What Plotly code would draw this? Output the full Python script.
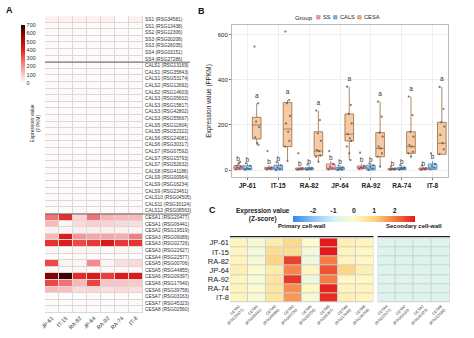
import plotly.graph_objects as go

W, H = 474, 338
FONT = "Liberation Sans, Arial, sans-serif"

def px_x(v):
    return v / W

def px_y(v):
    return 1 - v / H

# ---------------- Panel A data ----------------
genotypes = ["JP-61", "IT-15", "RA-82", "JP-64", "RA-92", "RA-74", "IT-8"]

ss_genes = ["SS1 (RSG34581)", "SS1 (RSG13438)", "SS2 (RSG12306)", "SS3 (RSG00208)",
            "SS3 (RSG26035)", "SS4 (RSG03151)", "SS4 (RSG27286)"]
ss_fpkm = [
    [28, 26, 27, 26, 28, 3, 27],
    [10, 9, 11, 10, 9, 8, 10],
    [9, 10, 9, 8, 10, 9, 8],
    [8, 9, 10, 9, 8, 9, 9],
    [10, 8, 9, 11, 9, 8, 10],
    [9, 9, 8, 10, 10, 9, 8],
    [8, 10, 9, 9, 8, 10, 9],
]

cals_genes = ["CALS1 (RSG13169)", "CALS1 (RSG35843)", "CALS1 (RSG53174)", "CALS2 (RSG12692)",
              "CALS2 (RSG14603)", "CALS3 (RSG05602)", "CALS3 (RSG15817)", "CALS3 (RSG42802)",
              "CALS3 (RSG55667)", "CALS5 (RSG11804)", "CALS5 (RSG52322)", "CALS6 (RSG24081)",
              "CALS6 (RSG30317)", "CALS7 (RSG07592)", "CALS7 (RSG15793)", "CALS7 (RSG52632)",
              "CALS8 (RSG41188)", "CALS9 (RSG00964)", "CALS9 (RSG16234)", "CALS9 (RSG23461)",
              "CALS10 (RSG04505)", "CALS11 (RSG30124)", "CALS12 (RSG08563)"]
cals_fpkm = [
    [9, 8, 9, 10, 9, 8, 9],
    [10, 9, 8, 9, 10, 9, 8],
    [8, 9, 10, 8, 9, 10, 9],
    [9, 10, 9, 9, 8, 9, 10],
    [10, 8, 9, 10, 9, 8, 9],
    [9, 9, 10, 8, 9, 9, 8],
    [8, 10, 9, 9, 10, 8, 9],
    [9, 8, 8, 10, 9, 9, 10],
    [10, 9, 9, 8, 8, 10, 9],
    [9, 10, 8, 9, 9, 9, 8],
    [8, 9, 9, 10, 10, 8, 9],
    [9, 8, 10, 9, 8, 9, 10],
    [10, 9, 9, 8, 9, 10, 9],
    [9, 10, 8, 9, 10, 9, 8],
    [8, 9, 9, 10, 9, 8, 9],
    [9, 8, 10, 9, 8, 9, 10],
    [10, 9, 9, 8, 9, 10, 9],
    [9, 10, 8, 9, 10, 9, 8],
    [8, 9, 9, 10, 9, 8, 9],
    [9, 8, 10, 9, 8, 9, 10],
    [10, 9, 9, 8, 9, 10, 9],
    [9, 10, 8, 9, 10, 9, 8],
    [8, 9, 9, 10, 9, 8, 9],
]

cesa_genes = ["CESA1 (RSG20477)", "CESA1 (RSG06441)", "CESA2 (RSG19519)", "CESA3 (RSG09089)",
              "CESA3 (RSG02726)", "CESA3 (RSG22627)", "CESA4 (RSG22577)", "CESA5 (RSG00706)",
              "CESA5 (RSG44855)", "CESA6 (RSG09397)", "CESA6 (RSG17940)", "CESA6 (RSG39758)",
              "CESA7 (RSG03163)", "CESA7 (RSG45323)", "CESA8 (RSG02560)"]
cesa_fpkm = [
    [260, 380, 80, 260, 140, 130, 130],
    [130, 20, 70, 90, 80, 70, 60],
    [30, 20, 35, 30, 30, 25, 20],
    [130, 420, 200, 170, 170, 150, 240],
    [370, 420, 330, 360, 430, 360, 370],
    [20, 15, 20, 20, 15, 20, 15],
    [10, 8, 10, 10, 8, 10, 8],
    [330, 20, 20, 220, 20, 60, 70],
    [15, 12, 15, 15, 12, 15, 12],
    [600, 670, 380, 430, 350, 420, 420],
    [330, 260, 130, 340, 110, 110, 100],
    [130, 120, 70, 80, 60, 70, 60],
    [10, 8, 10, 9, 8, 10, 8],
    [8, 9, 8, 10, 9, 8, 9],
    [9, 8, 9, 8, 10, 9, 8],
]

fpkm_ticks = [0, 100, 200, 300, 400, 500, 600, 700]

# ---------------- Panel B data ----------------
group_names = ["SS", "CALS", "CESA"]

ss_q1 = [3, 3, 1.5, 3, 6, 1.5, 1.5]
ss_median = [10, 6, 4, 8, 10, 3, 4]
ss_q3 = [19, 12, 9, 27, 18, 7, 9]
ss_low = [0, 0, 0, 0, 0, 0, 0]
ss_high = [36, 22, 15, 40, 30, 12, 15]
ss_points = [[3, 6, 10, 15, 19, 28, 36], [2, 4, 8, 12, 84], [1, 3, 5, 9, 74],
             [3, 8, 15, 27, 84], [4, 8, 12, 18, 77], [1, 2, 4, 7, 15], [1, 3, 6, 9, 20]]

cals_q1 = [1.5, 0, 1.5, 0, 0, 1.5, 3]
cals_median = [6, 8, 4, 4, 8, 5, 10]
cals_q3 = [19, 21, 10, 12, 21, 12, 27]
cals_low = [0, 0, 0, 0, 0, 0, 0]
cals_high = [30, 35, 20, 20, 30, 22, 40]
cals_points = [[1, 4, 9, 19, 30], [0, 5, 12, 21, 35], [1, 3, 6, 10, 25], [0, 3, 7, 12, 20],
               [0, 6, 14, 21, 30], [1, 4, 8, 12, 22], [3, 10, 18, 27, 74]]

cesa_q1 = [138, 104, 64, 129, 59, 74, 70]
cesa_median = [200, 182, 84, 159, 96, 104, 119]
cesa_q3 = [234, 300, 170, 249, 166, 170, 212]
cesa_low = [111, 40, 37, 44, 15, 59, 70]
cesa_high = [296, 311, 264, 370, 304, 326, 369]
cesa_points = [[548, 296, 215, 190, 145, 119, 111],
               [615, 311, 296, 240, 207, 170, 129, 104, 40],
               [264, 222, 163, 130, 89, 84, 64, 59, 37],
               [370, 289, 249, 207, 159, 141, 129, 104, 74, 44],
               [304, 237, 166, 148, 104, 96, 74, 59, 15],
               [326, 244, 170, 148, 111, 104, 81, 74, 59],
               [369, 271, 212, 193, 156, 119, 92, 70]]

ss_letters = ["b"] * 7
cals_letters = ["b"] * 7
cesa_letters = ["a"] * 7

# ---------------- Panel C data ----------------
primary_genes = ["CESA1<br>(RSG20477)", "CESA1<br>(RSG06441)", "CESA3<br>(RSG09089)",
                 "CESA3<br>(RSG02726)", "CESA5<br>(RSG00706)", "CESA6<br>(RSG09397)",
                 "CESA6<br>(RSG17940)", "CESA6<br>(RSG39758)"]
secondary_genes = ["CESA4<br>(RSG22577)", "CESA7<br>(RSG03163)", "CESA7<br>(RSG45323)",
                   "CESA8<br>(RSG02560)"]
z_primary = [
    [0.2, -0.2, 0.4, 0.9, -0.1, 3.0, 0.3, 0.2],
    [0.2, -0.3, 0.8, 0.8, -0.3, 3.0, 0.2, 0.1],
    [0.2, -0.2, 1.0, 2.6, -0.4, 2.0, 0.2, 0.1],
    [0.3, -0.1, 0.4, 1.9, 0.2, 2.4, 1.0, 0.3],
    [0.2, -0.2, 0.6, 2.7, -0.4, 2.0, 0.1, 0.1],
    [0.2, -0.1, 0.6, 1.8, 0.1, 2.9, 0.2, 0.2],
    [0.2, -0.2, 0.6, 1.7, -0.2, 2.8, 0.3, 0.2],
]
z_secondary = [
    [-0.8, -0.8, -0.8, -0.8],
    [-0.8, -0.8, -0.8, -0.8],
    [-0.8, -0.8, -0.8, -0.8],
    [-0.8, -0.8, -0.8, -0.8],
    [-0.8, -0.8, -0.8, -0.8],
    [-0.8, -0.8, -0.8, -0.8],
    [-0.8, -0.8, -0.8, -0.8],
]
z_ticks = [-2, -1, 0, 1, 2]

# ---------------- Styles ----------------
fpkm_scale = [[0.0, "#FFFFFF"], [0.143, "#FBC8C8"], [0.286, "#F79494"], [0.429, "#F15A5A"],
              [0.571, "#E41F1F"], [0.714, "#C00D0D"], [0.857, "#800404"], [1.0, "#2B0000"]]
z_scale = [[0.0, "#3485F0"], [0.167, "#8CC6F4"], [0.333, "#D4F1F6"], [0.5, "#FFFCCB"],
           [0.667, "#FDD583"], [0.833, "#F47C45"], [1.0, "#E31A1C"]]
group_fill = ["rgba(236,150,150,0.55)", "rgba(110,175,225,0.55)", "rgba(242,180,125,0.7)"]
group_line = ["#C85A5A", "#3A84C4", "#9C6B3E"]
legend_swatch = ["#E39A9A", "#78B4E0", "#E9B07E"]

fig = go.Figure()

# ---------- Panel A ----------
genes_a = ss_genes + cals_genes + cesa_genes
fpkm_a = ss_fpkm + cals_fpkm + cesa_fpkm
fig.add_trace(go.Heatmap(
    x=genotypes, y=genes_a, z=fpkm_a, colorscale=fpkm_scale, zmin=0, zmax=700,
    xgap=1, ygap=1, xaxis="x", yaxis="y", hoverinfo="skip",
    colorbar=dict(xref="container", yref="container", x=px_x(21), xanchor="left",
                  y=px_y(25), yanchor="top", len=58, lenmode="pixels", thickness=4,
                  thicknessmode="pixels", outlinewidth=0, xpad=0, ypad=0,
                  tickvals=fpkm_ticks, ticks="", tickfont=dict(size=5.5, color="#333", family=FONT)),
))

# ---------- Panel B ----------
groups = [
    (-0.3, ss_q1, ss_median, ss_q3, ss_low, ss_high, ss_points, ss_letters, 12),
    (0.0, cals_q1, cals_median, cals_q3, cals_low, cals_high, cals_points, cals_letters, 14),
    (0.3, cesa_q1, cesa_median, cesa_q3, cesa_low, cesa_high, cesa_points, cesa_letters, 32),
]
jitter_pattern = [-0.07, 0.05, -0.02, 0.08, -0.05, 0.02, 0.06, -0.08, 0.0, 0.04]
for g, (off, q1, med, q3, lo, hi, pts, letters, loff) in enumerate(groups):
    xs = [i + off for i in range(len(genotypes))]
    fig.add_trace(go.Box(
        x=xs, q1=q1, median=med, q3=q3, lowerfence=lo, upperfence=hi, width=0.28,
        fillcolor=group_fill[g], line=dict(color=group_line[g], width=0.8), whiskerwidth=0,
        name=group_names[g], boxpoints=False, xaxis="x2", yaxis="y2", hoverinfo="skip",
        showlegend=False))
for g, (off, q1, med, q3, lo, hi, pts, letters, loff) in enumerate(groups):
    px_, py_ = [], []
    for i, vals in enumerate(pts):
        for k, v in enumerate(vals):
            px_.append(i + off + jitter_pattern[k % len(jitter_pattern)])
            py_.append(v)
    fig.add_trace(go.Scatter(x=px_, y=py_, mode="markers", showlegend=False,
                             marker=dict(size=2.2, color="rgba(80,80,80,0.75)"),
                             xaxis="x2", yaxis="y2", hoverinfo="skip"))
    fig.add_trace(go.Scatter(x=[i + off for i in range(len(genotypes))],
                             y=[h + loff for h in hi], text=letters, mode="text",
                             textfont=dict(size=6.5, color="#333", family=FONT),
                             showlegend=False, xaxis="x2", yaxis="y2", hoverinfo="skip"))

# ---------- Panel C ----------
fig.add_trace(go.Heatmap(
    x=primary_genes, y=genotypes, z=z_primary, colorscale=z_scale, zmin=-3, zmax=3,
    xgap=1, ygap=1, xaxis="x3", yaxis="y3", hoverinfo="skip",
    colorbar=dict(orientation="h", xref="container", yref="container", x=px_x(292.7),
                  xanchor="left", y=px_y(215.7), yanchor="top", len=122.3, lenmode="pixels",
                  thickness=6, thicknessmode="pixels", outlinewidth=0, xpad=0, ypad=0,
                  showticklabels=False, ticks=""),
))
fig.add_trace(go.Heatmap(
    x=secondary_genes, y=genotypes, z=z_secondary, colorscale=z_scale, zmin=-3, zmax=3,
    xgap=1, ygap=1, xaxis="x4", yaxis="y3", showscale=False, hoverinfo="skip"))
# invisible trace so the colour-bar tick axis is drawn
fig.add_trace(go.Scatter(x=[], y=[], xaxis="x5", yaxis="y5", showlegend=False))

shapes = [
    dict(type="rect", xref="x domain", yref="y domain", x0=0, x1=1, y0=0, y1=1,
         fillcolor="#D9D9D9", line=dict(width=0), layer="below"),
    dict(type="rect", xref="x3 domain", yref="y3 domain", x0=0, x1=1, y0=0, y1=1,
         fillcolor="#D0D0D0", line=dict(width=0), layer="below"),
    dict(type="rect", xref="x4 domain", yref="y3 domain", x0=0, x1=1, y0=0, y1=1,
         fillcolor="#D0D0D0", line=dict(width=0), layer="below"),
    dict(type="line", xref="paper", yref="y", x0=px_x(45), x1=px_x(190),
         y0=len(ss_genes) - 0.5, y1=len(ss_genes) - 0.5, line=dict(color="#666", width=1)),
    dict(type="line", xref="paper", yref="y", x0=px_x(45), x1=px_x(190),
         y0=len(ss_genes) + len(cals_genes) - 0.5, y1=len(ss_genes) + len(cals_genes) - 0.5,
         line=dict(color="#666", width=1)),
    dict(type="line", xref="x3 domain", yref="paper", x0=0, x1=1, y0=px_y(236.7), y1=px_y(236.7),
         line=dict(color="#222", width=1.3)),
    dict(type="line", xref="x4 domain", yref="paper", x0=0, x1=1, y0=px_y(236.7), y1=px_y(236.7),
         line=dict(color="#222", width=1.3)),
]

annotations = [
    dict(text="<b>A</b>", x=px_x(4), y=px_y(10), xref="paper", yref="paper", showarrow=False,
         xanchor="left", yanchor="middle", font=dict(size=9, color="#111", family=FONT)),
    dict(text="<b>B</b>", x=px_x(196), y=px_y(11), xref="paper", yref="paper", showarrow=False,
         xanchor="left", yanchor="middle", font=dict(size=9, color="#111", family=FONT)),
    dict(text="<b>C</b>", x=px_x(207), y=px_y(210), xref="paper", yref="paper", showarrow=False,
         xanchor="left", yanchor="middle", font=dict(size=9, color="#111", family=FONT)),
    dict(text="Expression value<br>(FPKM)", x=px_x(26), y=px_y(103), xref="paper", yref="paper",
         showarrow=False, textangle=-90, font=dict(size=5, color="#222", family=FONT)),
    dict(text="<b>Expression value</b><br><b>(Z-score)</b>", x=px_x(263), y=px_y(214.5),
         xref="paper", yref="paper", showarrow=False,
         font=dict(size=6.5, color="#222", family=FONT)),
    dict(text="<b>Primary cell-wall</b>", x=0.5, y=px_y(231), xref="x3 domain", yref="paper",
         showarrow=False, font=dict(size=6, color="#222", family=FONT)),
    dict(text="<b>Secondary cell-wall</b>", x=0.5, y=px_y(231), xref="x4 domain", yref="paper",
         showarrow=False, font=dict(size=6, color="#222", family=FONT)),
    dict(text="Group", x=px_x(314), y=px_y(17.3), xref="paper", yref="paper", showarrow=False,
         xanchor="right", yanchor="middle", borderpad=0,
         font=dict(size=6.2, color="#222", family=FONT)),
]

# compact legend for panel B (swatch + label per group)
legend_x = [316.5, 333.5, 357.5]
for g, name in enumerate(group_names):
    x0 = legend_x[g]
    shapes.append(dict(type="rect", xref="paper", yref="paper", x0=px_x(x0), x1=px_x(x0 + 3.6),
                       y0=px_y(19.1), y1=px_y(15.5), fillcolor=legend_swatch[g],
                       line=dict(color=group_line[g], width=0.4)))
    annotations.append(dict(text=name, x=px_x(x0 + 5.2), y=px_y(17.3), xref="paper",
                            yref="paper", showarrow=False, xanchor="left", yanchor="middle",
                            borderpad=0, font=dict(size=5.7, color="#222", family=FONT)))

fig.update_layout(
    width=W, height=H, autosize=False, margin=dict(l=0, r=0, t=0, b=0, autoexpand=False),
    paper_bgcolor="white", plot_bgcolor="white",
    font=dict(family=FONT, color="#222"),
    showlegend=False,
    # Panel A axes
    xaxis=dict(domain=[px_x(45), px_x(143)], anchor="y", tickangle=-45, ticks="",
               tickfont=dict(size=5.5, color="#222", family=FONT), showgrid=False,
               zeroline=False, showline=False, automargin=False),
    yaxis=dict(domain=[px_y(313), px_y(16)], anchor="x", side="right", autorange="reversed",
               ticks="", tickfont=dict(size=4.8, color="#333", family=FONT), showgrid=False,
               zeroline=False, showline=False, ticklabelstandoff=1, automargin=False),
    # Panel B axes
    xaxis2=dict(domain=[px_x(232), px_x(448)], anchor="y2", range=[-0.5, 6.5],
                tickvals=list(range(len(genotypes))), ticktext=["<b>%s</b>" % g for g in genotypes],
                tickfont=dict(size=6.5, color="#222", family=FONT), ticks="outside", ticklen=2,
                tickcolor="#777", showgrid=True, gridcolor="#EEEEEE", gridwidth=0.6,
                zeroline=False, showline=True, mirror=True, linecolor="#BBBBBB", linewidth=1,
                automargin=False),
    yaxis2=dict(domain=[px_y(177), px_y(25)], anchor="x2", range=[-31, 644],
                tickvals=[0, 200, 400, 600], tickfont=dict(size=6, color="#222", family=FONT),
                ticks="outside", ticklen=2, tickcolor="#777", showgrid=True,
                gridcolor="#EEEEEE", gridwidth=0.6, zeroline=False, showline=True, mirror=True,
                linecolor="#BBBBBB", linewidth=1, automargin=False,
                title=dict(text="Expression value (FPKM)", standoff=5,
                           font=dict(size=6.5, color="#222", family=FONT))),
    # Panel C axes
    xaxis3=dict(domain=[px_x(230), px_x(373.5)], anchor="y3", tickangle=-45, ticks="",
                tickfont=dict(size=3.8, color="#333", family=FONT), showgrid=False,
                zeroline=False, showline=False, automargin=False),
    xaxis4=dict(domain=[px_x(377.5), px_x(450)], anchor="y3", tickangle=-45, ticks="",
                tickfont=dict(size=3.8, color="#333", family=FONT), showgrid=False,
                zeroline=False, showline=False, automargin=False),
    yaxis3=dict(domain=[px_y(302.3), px_y(238.3)], anchor="x3", autorange="reversed",
                ticks="", tickfont=dict(size=7.5, color="#222", family=FONT), showgrid=False,
                zeroline=False, showline=False, automargin=False),
    xaxis5=dict(domain=[px_x(292.7), px_x(415)], anchor="y5", side="top", range=[-3, 3],
                tickvals=z_ticks, ticktext=["<b>%d</b>" % t for t in z_ticks], ticks="",
                tickfont=dict(size=7, color="#222", family=FONT), showgrid=False,
                zeroline=False, showline=False, automargin=False),
    yaxis5=dict(domain=[px_y(221.7), px_y(215.7)], anchor="x5", visible=False, range=[0, 1],
                automargin=False),
    shapes=shapes,
    annotations=annotations,
)

fig.write_html("out.html")
